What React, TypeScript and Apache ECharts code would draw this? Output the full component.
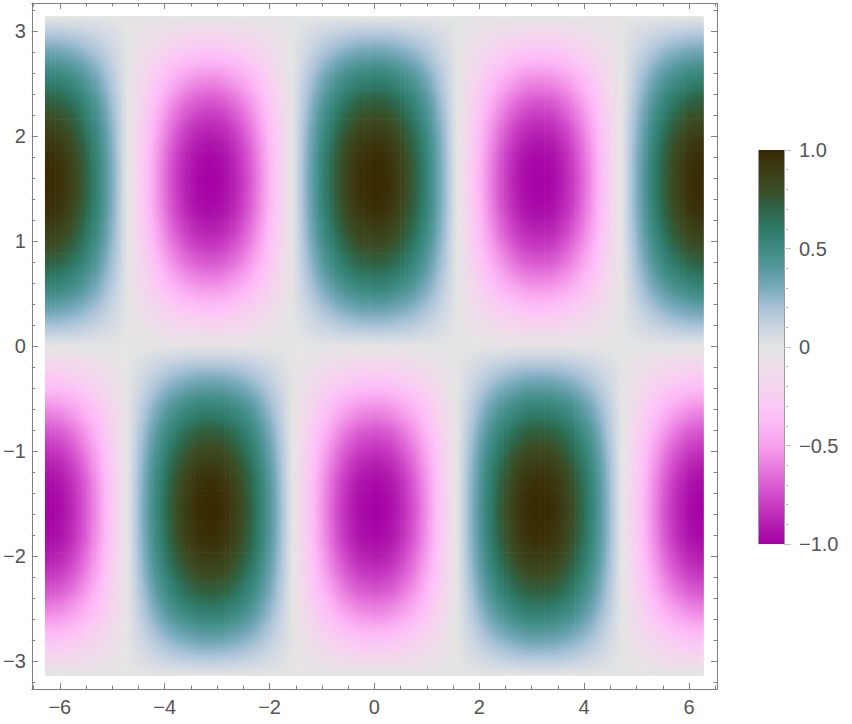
import React, { useEffect, useRef } from "react";
import * as echarts from "echarts";

// Sample grid: x from -2π to 2π, y from -π to π
const X_START = -2 * Math.PI;
const X_END = 2 * Math.PI;
const Y_START = -Math.PI;
const Y_END = Math.PI;

// Column profile read along x (relative intensity, sign included), 129 samples
const xProfile = [
  1, 0.99, 0.98, 0.96, 0.92, 0.88, 0.83, 0.77, 0.71, 0.63, 0.56, 0.47, 0.38, 0.29, 0.2, 0.1, 0,
  -0.1, -0.2, -0.29, -0.38, -0.47, -0.56, -0.63, -0.71, -0.77, -0.83, -0.88, -0.92, -0.96, -0.98, -0.99, -1,
  -0.99, -0.98, -0.96, -0.92, -0.88, -0.83, -0.77, -0.71, -0.63, -0.56, -0.47, -0.38, -0.29, -0.2, -0.1, 0,
  0.1, 0.2, 0.29, 0.38, 0.47, 0.56, 0.63, 0.71, 0.77, 0.83, 0.88, 0.92, 0.96, 0.98, 0.99, 1,
  0.99, 0.98, 0.96, 0.92, 0.88, 0.83, 0.77, 0.71, 0.63, 0.56, 0.47, 0.38, 0.29, 0.2, 0.1, 0,
  -0.1, -0.2, -0.29, -0.38, -0.47, -0.56, -0.63, -0.71, -0.77, -0.83, -0.88, -0.92, -0.96, -0.98, -0.99, -1,
  -0.99, -0.98, -0.96, -0.92, -0.88, -0.83, -0.77, -0.71, -0.63, -0.56, -0.47, -0.38, -0.29, -0.2, -0.1, 0,
  0.1, 0.2, 0.29, 0.38, 0.47, 0.56, 0.63, 0.71, 0.77, 0.83, 0.88, 0.92, 0.96, 0.98, 0.99, 1,
];

// Row profile read along y, 65 samples
const yProfile = [
  0, -0.1, -0.2, -0.29, -0.38, -0.47, -0.56, -0.63, -0.71, -0.77, -0.83, -0.88, -0.92, -0.96, -0.98, -0.99, -1,
  -0.99, -0.98, -0.96, -0.92, -0.88, -0.83, -0.77, -0.71, -0.63, -0.56, -0.47, -0.38, -0.29, -0.2, -0.1, 0,
  0.1, 0.2, 0.29, 0.38, 0.47, 0.56, 0.63, 0.71, 0.77, 0.83, 0.88, 0.92, 0.96, 0.98, 0.99, 1,
  0.99, 0.98, 0.96, 0.92, 0.88, 0.83, 0.77, 0.71, 0.63, 0.56, 0.47, 0.38, 0.29, 0.2, 0.1, 0,
];

// Colour scale from -1 to 1 (step 0.1)
const colorScale = [
  "#a400a4", "#b41eb0", "#c83cc2", "#da5ed2", "#ea80e0", "#f6a0ec", "#fcb8f6",
  "#fbc8f5", "#f5d4ee", "#eddde9", "#e4e4e4", "#cbd5e2", "#a8c2d6", "#78aabc",
  "#56989c", "#3c8a82", "#2f7a68", "#2e6446", "#3a4e26", "#3b3c14", "#382800",
];

const xMajorTicks = [-6, -4, -2, 0, 2, 4, 6];
const xMinorTicks = [
  -6.5, -5.5, -5, -4.5, -3.5, -3, -2.5, -1.5, -1, -0.5,
  0.5, 1, 1.5, 2.5, 3, 3.5, 4.5, 5, 5.5, 6.5,
];
const yMajorTicks = [-3, -2, -1, 0, 1, 2, 3];
const yMinorTicks = [
  -3.2, -2.8, -2.6, -2.4, -2.2, -1.8, -1.6, -1.4, -1.2, -0.8, -0.6, -0.4, -0.2,
  0.2, 0.4, 0.6, 0.8, 1.2, 1.4, 1.6, 1.8, 2.2, 2.4, 2.6, 2.8, 3.2,
];
const barMajorTicks = [-1, -0.5, 0, 0.5, 1];
const barMinorTicks = [
  -0.9, -0.8, -0.7, -0.6, -0.4, -0.3, -0.2, -0.1, 0.1, 0.2, 0.3, 0.4, 0.6, 0.7, 0.8, 0.9,
];
const barTickLabels = ["\u22121.0", "\u22120.5", "0", "0.5", "1.0"];

const FRAME = "#808080";
const LABEL = "#555555";
const FONT = "Liberation Sans, Arial, sans-serif";
const FONT_SIZE = 20;

const fmtMinus = (v: number) => (v < 0 ? "\u2212" + Math.abs(v) : String(v));
const lerpColor = (v: number) =>
  echarts.color.lerp(Math.min(1, Math.max(0, (v + 1) / 2)), colorScale) as string;

export default function App() {
  const ref = useRef<HTMLDivElement>(null);

  useEffect(() => {
    if (!ref.current) return;
    const chart = echarts.init(ref.current, null, { renderer: "svg" });

    const X_STEP = (X_END - X_START) / (xProfile.length - 1);
    const Y_STEP = (Y_END - Y_START) / (yProfile.length - 1);
    // each cell spans between neighbouring samples: [xa, ya, xb, yb, v(xa,ya), v(xb,ya), v(xa,yb), v(xb,yb)]
    const data: number[][] = [];
    for (let j = 0; j < yProfile.length - 1; j++) {
      for (let i = 0; i < xProfile.length - 1; i++) {
        const r = (n: number) => Math.round(n * 10000) / 10000;
        data.push([
          X_START + i * X_STEP,
          Y_START + j * Y_STEP,
          X_START + (i + 1) * X_STEP,
          Y_START + (j + 1) * Y_STEP,
          r(xProfile[i] * yProfile[j]),
          r(xProfile[i + 1] * yProfile[j]),
          r(xProfile[i] * yProfile[j + 1]),
          r(xProfile[i + 1] * yProfile[j + 1]),
        ]);
      }
    }

    const xMin = -6.534, xMax = 6.534;
    const yMin = -3.267, yMax = 3.267;

    const majorX = (position: string, withLabel: boolean) => ({
      type: "value", gridIndex: 0, position, min: xMin, max: xMax,
      axisLine: { show: true, onZero: false, lineStyle: { color: FRAME, width: 1 } },
      axisTick: { show: true, inside: true, length: 6, customValues: xMajorTicks, lineStyle: { color: FRAME } },
      axisLabel: withLabel
        ? { show: true, customValues: xMajorTicks, formatter: fmtMinus, color: LABEL, fontSize: FONT_SIZE, fontFamily: FONT, margin: 8 }
        : { show: false },
      splitLine: { show: false },
    });
    const minorX = (position: string) => ({
      type: "value", gridIndex: 0, position, min: xMin, max: xMax,
      axisLine: { show: false, onZero: false },
      axisTick: { show: true, inside: true, length: 3.5, customValues: xMinorTicks, lineStyle: { color: FRAME } },
      axisLabel: { show: false },
      splitLine: { show: false },
    });
    const majorY = (position: string, withLabel: boolean) => ({
      type: "value", gridIndex: 0, position, min: yMin, max: yMax,
      axisLine: { show: true, onZero: false, lineStyle: { color: FRAME, width: 1 } },
      axisTick: { show: true, inside: true, length: 6, customValues: yMajorTicks, lineStyle: { color: FRAME } },
      axisLabel: withLabel
        ? { show: true, customValues: yMajorTicks, formatter: fmtMinus, color: LABEL, fontSize: FONT_SIZE, fontFamily: FONT, margin: 6 }
        : { show: false },
      splitLine: { show: false },
    });
    const minorY = (position: string) => ({
      type: "value", gridIndex: 0, position, min: yMin, max: yMax,
      axisLine: { show: false, onZero: false },
      axisTick: { show: true, inside: true, length: 3.5, customValues: yMinorTicks, lineStyle: { color: FRAME } },
      axisLabel: { show: false },
      splitLine: { show: false },
    });

    const gradStops = colorScale
      .map((c, k) => ({ offset: 1 - k / (colorScale.length - 1), color: c }))
      .reverse();

    chart.setOption({
      animation: false,
      backgroundColor: "#ffffff",
      grid: [
        { left: 31, top: 3, width: 686, height: 686 },
        { left: 758, top: 150, width: 26, height: 394 },
      ],
      xAxis: [
        majorX("bottom", true),
        minorX("bottom"),
        majorX("top", false),
        minorX("top"),
        { type: "value", gridIndex: 1, min: 0, max: 1, show: false },
      ],
      yAxis: [
        majorY("left", true),
        minorY("left"),
        majorY("right", false),
        minorY("right"),
        {
          type: "value", gridIndex: 1, position: "right", min: -1, max: 1,
          axisLine: { show: true, onZero: false, lineStyle: { color: "#9a9a9a", width: 1 } },
          axisTick: { show: true, inside: false, length: 7, customValues: barMajorTicks, lineStyle: { color: "#c4c4c4" } },
          axisLabel: {
            show: true, customValues: barMajorTicks,
            formatter: (v: number) => barTickLabels[barMajorTicks.findIndex((t) => Math.abs(t - v) < 1e-6)] ?? String(v),
            color: LABEL, fontSize: FONT_SIZE, fontFamily: FONT, margin: 15,
          },
          splitLine: { show: false },
        },
        {
          type: "value", gridIndex: 1, position: "right", min: -1, max: 1,
          axisLine: { show: false, onZero: false },
          axisTick: { show: true, inside: false, length: 4.5, customValues: barMinorTicks, lineStyle: { color: "#c4c4c4" } },
          axisLabel: { show: false },
          splitLine: { show: false },
        },
        {
          type: "value", gridIndex: 1, position: "left", min: -1, max: 1,
          axisLine: { show: true, onZero: false, lineStyle: { color: "#9a9a9a", width: 1 } },
          axisTick: { show: false },
          axisLabel: { show: false },
          splitLine: { show: false },
        },
      ],
      graphic: [
        {
          type: "rect", z: 0,
          shape: { x: 758, y: 150, width: 26, height: 394 },
          style: { fill: new echarts.graphic.LinearGradient(0, 0, 0, 1, gradStops) },
          silent: true,
        },
      ],
      series: [
        {
          type: "custom",
          xAxisIndex: 0,
          yAxisIndex: 0,
          silent: true,
          encode: { x: [0, 2], y: [1, 3] },
          data,
          renderItem: (params: any, api: any) => {
            const xa = api.value(0), ya = api.value(1), xb = api.value(2), yb = api.value(3);
            const v00 = api.value(4), v10 = api.value(5), v01 = api.value(6), v11 = api.value(7);
            const pTL = api.coord([xa, yb]);
            const pBR = api.coord([xb, ya]);
            const padW = xb < X_END - 1e-9 ? 0.6 : 0;
            const padH = ya > Y_START + 1e-9 ? 0.6 : 0;
            const w = pBR[0] - pTL[0] + padW;
            const h = pBR[1] - pTL[1] + padH;
            // unit box: u left->right, t top->bottom
            const bu = (v11 - v01 + (v10 - v00)) / 2;
            const bt = (v00 - v01 + (v10 - v11)) / 2;
            const vc = (v00 + v10 + v01 + v11) / 4;
            const mag = Math.hypot(bu, bt);
            let fill: any;
            if (mag < 1e-6) {
              fill = lerpColor(vc);
            } else {
              const du = bu / mag, dt = bt / mag;
              const half = (Math.abs(du) + Math.abs(dt)) / 2;
              const vs = vc - mag * half, ve = vc + mag * half;
              const stops = [0, 0.25, 0.5, 0.75, 1].map((o) => ({ offset: o, color: lerpColor(vs + (ve - vs) * o) }));
              fill = new echarts.graphic.LinearGradient(
                0.5 - half * du, 0.5 - half * dt, 0.5 + half * du, 0.5 + half * dt, stops
              );
            }
            return {
              type: "rect",
              shape: { x: pTL[0], y: pTL[1], width: w, height: h },
              style: { fill },
            };
          },
        },
      ],
    });

    return () => chart.dispose();
  }, []);

  return (
    <div
      ref={ref}
      style={{ position: "fixed", left: 0, top: 0, width: 852, height: 724, background: "#fff" }}
    />
  );
}
